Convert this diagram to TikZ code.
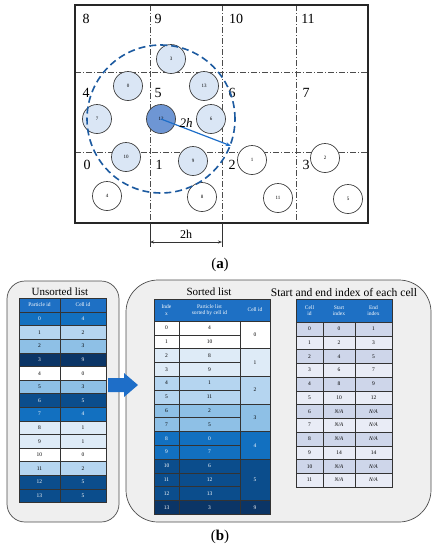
\documentclass[tikz,border=0pt]{standalone}
\usepackage{fontspec}
\setmainfont{Liberation Serif}
\usetikzlibrary{arrows.meta}
\definecolor{hdr}{RGB}{30,112,196}
\definecolor{c0}{RGB}{255,255,255}
\definecolor{c1}{RGB}{222,235,247}
\definecolor{c2}{RGB}{181,213,240}
\definecolor{c3}{RGB}{142,192,230}
\definecolor{c4}{RGB}{18,112,192}
\definecolor{c5}{RGB}{11,77,140}
\definecolor{c9}{RGB}{11,53,102}
\colorlet{tx0}{black}\colorlet{tx1}{black}\colorlet{tx2}{black}\colorlet{tx3}{black}
\colorlet{tx4}{white}\colorlet{tx5}{white}\colorlet{tx9}{white}
\definecolor{ra}{RGB}{206,214,234}
\definecolor{rb}{RGB}{233,236,246}
\definecolor{plb}{RGB}{218,230,245}
\definecolor{pdb}{RGB}{110,150,212}
\definecolor{nbrblue}{RGB}{28,90,160}
\definecolor{arrblue}{RGB}{30,110,200}
\definecolor{boxgray}{RGB}{239,239,239}
\begin{document}
\begin{tikzpicture}[x=1pt,y=-1pt,
  part/.style={circle, draw=black!75, line width=0.7pt, minimum size=29pt, inner sep=0pt, font=\fontsize{5}{5}\selectfont},
  lbpart/.style={part, fill=plb},
  cellno/.style={font=\fontsize{14}{14}\selectfont, inner sep=0pt},
  griddash/.style={draw=black!70, line width=0.8pt, dash pattern=on 6pt off 2pt on 1pt off 2pt},
  tcell/.style={font=\fontsize{5.5}{6}\selectfont, inner sep=0pt},
  thdr/.style={font=\fontsize{5.5}{6.5}\selectfont, inner sep=0pt, text=white, align=center},
  ttitle/.style={font=\fontsize{11}{12}\selectfont, inner sep=0pt},
  tline/.style={draw=black!80, line width=0.5pt},
  rbox/.style={draw=black!70, line width=0.7pt, fill=boxgray}
]
\useasboundingbox (0,0) rectangle (436,550);
% ---------- panel (a)
\draw[griddash] (150,5) -- (150,223);
\draw[griddash] (222,5) -- (222,223);
\draw[griddash] (296,5) -- (296,223);
\draw[griddash] (75,72) -- (368,72);
\draw[griddash] (75,152) -- (368,152);
\draw[line width=2pt, draw=black!85] (75,5) rectangle (368,223);
\node[cellno] (n8) at (86,19) {8};
\node[cellno] (n9) at (158,19) {9};
\node[cellno] (n10) at (236,19) {10};
\node[cellno] (n11) at (308,19) {11};
\node[cellno] (n4) at (86,93) {4};
\node[cellno] (n5) at (158,93) {5};
\node[cellno] (n6) at (232,93) {6};
\node[cellno] (n7) at (306,93) {7};
\node[cellno] (n0) at (87,165) {0};
\node[cellno] (n1) at (159,165) {1};
\node[cellno] (n2) at (232,165) {2};
\node[cellno] (n3) at (306,165) {3};
\node[lbpart] (p3) at (171,59) {3};
\node[lbpart] (p0) at (128,86) {0};
\node[lbpart] (p13) at (204,86) {13};
\node[lbpart] (p7) at (97,119) {7};
\node[part, fill=pdb] (p12) at (161,119) {12};
\node[lbpart] (p6) at (211,119) {6};
\node[lbpart] (p10) at (126,157) {10};
\node[lbpart] (p9) at (193,161) {9};
\node[part, fill=white] (p1) at (252,160) {1};
\node[part, fill=white] (p2) at (325,158) {2};
\node[part, fill=white] (p4) at (107,196) {4};
\node[part, fill=white] (p8) at (202,197) {8};
\node[part, fill=white] (p11) at (278,198) {11};
\node[part, fill=white] (p5) at (348,199) {5};
\node[circle, draw=nbrblue, line width=1.6pt, dash pattern=on 7pt off 4pt, minimum size=148pt, inner sep=0pt] (nbr) at (161,119) {};
\draw[arrblue, line width=1.2pt, -{Stealth[length=5pt]}] (p12.center) -- (nbr.-21);
\node[font=\itshape\fontsize{13}{13}\selectfont, inner sep=0pt] (lbl2h) at (186,123) {2h};
\coordinate (da) at (150,223);
\coordinate (db) at (222,223);
\coordinate (da2) at (150,247);
\coordinate (db2) at (222,247);
\draw[black!80, line width=0.6pt] (da) -- (da2);
\draw[black!80, line width=0.6pt] (db) -- (db2);
\coordinate (dl) at (150,242);
\coordinate (dr) at (222,242);
\draw[black!80, line width=0.6pt, {Stealth[length=4pt]}-{Stealth[length=4pt]}] (dl) -- (dr);
\node[font=\fontsize{12}{12}\selectfont, inner sep=0pt] (dim2h) at (186,234) {2h};
\node[font=\fontsize{15}{15}\selectfont, inner sep=0pt] (capa) at (220,265) {(\textbf{a})};
% ---------- panel (b)
\draw[rbox, rounded corners=18pt] (7,281) rectangle (119,522);
\draw[rbox, rounded corners=32pt] (126,280) rectangle (431,522);
\fill[arrblue] (108,378) -- (124,378) -- (124,373) -- (138,385) -- (124,397) -- (124,392) -- (108,392) -- cycle;
\node[ttitle] (tun) at (60,292) {Unsorted list};
\node[ttitle] (tso) at (209,292) {Sorted list};
\node[ttitle, font=\fontsize{11.6}{12}\selectfont] (tse) at (344,292) {Start and end index of each cell};
% unsorted table
\fill[hdr] (19,298) rectangle (106,312);
\node[thdr] (uh1) at (39.5,305) {Particle id};
\node[thdr] (uh2) at (83,305) {Cell id};
\foreach \i/\p/\c in {0/0/4,1/1/2,2/2/3,3/3/9,4/4/0,5/5/3,6/6/5,7/7/4,8/8/1,9/9/1,10/10/0,11/11/2,12/12/5,13/13/5}{
  \pgfmathsetmacro{\yt}{312+13.6*\i}
  \pgfmathsetmacro{\yb}{\yt+13.6}
  \pgfmathsetmacro{\ym}{\yt+6.8}
  \draw[tline, fill=c\c] (19,\yt) rectangle (106,\yb);
  \node[tcell, text=tx\c] (ua\i) at (39.5,\ym) {\p};
  \node[tcell, text=tx\c] (ub\i) at (83,\ym) {\c};
}
\draw[tline] (60,298) -- (60,502.4);
\draw[tline] (19,298) rectangle (106,502.4);
% sorted table
\fill[hdr] (154,299) rectangle (270,321);
\node[thdr] (sh1) at (166.5,310) {Inde\\x};
\node[thdr] (sh2) at (209.5,310) {Particle list\\sorted by cell id};
\node[thdr] (sh3) at (255,310) {Cell id};
\foreach \i/\p/\c in {0/4/0,1/10/0,2/8/1,3/9/1,4/1/2,5/11/2,6/2/3,7/5/3,8/0/4,9/7/4,10/6/5,11/12/5,12/13/5,13/3/9}{
  \pgfmathsetmacro{\yt}{321+13.8*\i}
  \pgfmathsetmacro{\yb}{\yt+13.8}
  \pgfmathsetmacro{\ym}{\yt+6.9}
  \draw[tline, fill=c\c] (154,\yt) rectangle (179,\yb);
  \draw[tline, fill=c\c] (179,\yt) rectangle (240,\yb);
  \node[tcell, text=tx\c] (sa\i) at (166.5,\ym) {\i};
  \node[tcell, text=tx\c] (sb\i) at (209.5,\ym) {\p};
}
\foreach \s/\n/\c in {0/2/0,2/2/1,4/2/2,6/2/3,8/2/4,10/3/5,13/1/9}{
  \pgfmathsetmacro{\yt}{321+13.8*\s}
  \pgfmathsetmacro{\yb}{\yt+13.8*\n}
  \pgfmathsetmacro{\ym}{(\yt+\yb)/2}
  \draw[tline, fill=c\c] (240,\yt) rectangle (270,\yb);
  \node[tcell, text=tx\c] (sc\s) at (255,\ym) {\c};
}
\draw[tline] (154,299) rectangle (270,514.2);
% start/end table
\fill[hdr] (296,299) rectangle (392,322);
\node[thdr] (eh1) at (309.5,310.5) {Cell\\id};
\node[thdr] (eh2) at (339,310.5) {Start\\index};
\node[thdr] (eh3) at (373.5,310.5) {End\\index};
\foreach \i/\s/\e/\k in {0/0/1/ra,1/2/3/rb,2/4/5/ra,3/6/7/rb,4/8/9/ra,5/10/12/rb,6/\textit{N/A}/\textit{N/A}/ra,7/\textit{N/A}/\textit{N/A}/rb,8/\textit{N/A}/\textit{N/A}/ra,9/14/14/rb,10/\textit{N/A}/\textit{N/A}/ra,11/\textit{N/A}/\textit{N/A}/rb}{
  \pgfmathsetmacro{\yt}{322+13.75*\i}
  \pgfmathsetmacro{\yb}{\yt+13.75}
  \pgfmathsetmacro{\ym}{\yt+6.875}
  \draw[tline, fill=\k] (296,\yt) rectangle (323,\yb);
  \draw[tline, fill=\k] (323,\yt) rectangle (355,\yb);
  \draw[tline, fill=\k] (355,\yt) rectangle (392,\yb);
  \node[tcell] (ea\i) at (309.5,\ym) {\i};
  \node[tcell] (eb\i) at (339,\ym) {\s};
  \node[tcell] (ec\i) at (373.5,\ym) {\e};
}
\draw[tline] (296,299) rectangle (392,487);
\node[font=\fontsize{15}{15}\selectfont, inner sep=0pt] (capb) at (220,537) {(\textbf{b})};
\end{tikzpicture}
\end{document}
